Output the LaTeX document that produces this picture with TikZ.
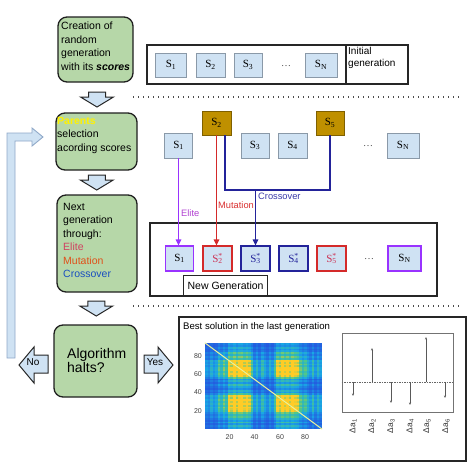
\documentclass[tikz,border=0pt]{standalone}
\usepackage{fontspec}
\setmainfont{Liberation Sans}
\newfontfamily\serif{Liberation Serif}
\usetikzlibrary{arrows.meta,calc}
\definecolor{gfill}{HTML}{B6D7A8}
\definecolor{bfill}{HTML}{CFE2F3}
\definecolor{sborder}{HTML}{8A99A8}
\definecolor{brownf}{HTML}{BF9000}
\definecolor{brownd}{HTML}{7F6000}
\definecolor{purp}{HTML}{9933FF}
\definecolor{redc}{HTML}{D42A2A}
\definecolor{navy}{HTML}{23239A}
\definecolor{elitec}{HTML}{B03FD0}
\definecolor{mutc}{HTML}{D93030}
\definecolor{xoc}{HTML}{3A3AA8}
\definecolor{starred}{HTML}{CC3355}
\definecolor{eliteb}{HTML}{D04060}
\definecolor{mutb}{HTML}{E0501A}
\definecolor{xob}{HTML}{1A4FC0}
\definecolor{fbborder}{HTML}{8FA8C8}
\definecolor{hmA}{rgb}{0.15,0.27,0.87}
\definecolor{hmB}{rgb}{0.1,0.65,0.9}
\definecolor{hmC}{rgb}{0.3,0.78,0.55}
\definecolor{hmD}{rgb}{1,0.8,0.15}
\newcommand\subS[1]{S\textsubscript{#1}}
\newcommand\starS[1]{S\rlap{\textsuperscript{*}}\textsubscript{#1}}
\tikzset{
  gbox/.style={draw=black!88, line width=1.3pt, fill=gfill, rounded corners=9pt, inner sep=0pt},
  btext/.style={inner sep=0pt, align=left, anchor=north west, font=\fontsize{10.5}{13.5}\selectfont},
  sbox/.style={draw=sborder, fill=bfill, line width=0.8pt, minimum width=29pt, minimum height=24.5pt, inner sep=0pt, font=\serif\fontsize{11}{11}\selectfont},
  brownbox/.style={sbox, fill=brownf, draw=brownd},
  dotsnode/.style={inner sep=0pt, font=\serif\fontsize{10}{10}\selectfont, text=black!70},
  blockarrow/.style={draw=black!85, fill=bfill, line width=1pt, line join=miter},
  frame/.style={draw=black!85, line width=1.2pt, inner sep=0pt},
  dotsep/.style={draw=black!70, line width=1.2pt, dash pattern=on 1.2pt off 3.8pt},
  conn/.style={line width=1.2pt, -{Triangle[length=6pt,width=5.5pt]}},
  lbl/.style={inner sep=0pt, font=\fontsize{9.3}{9.3}\selectfont},
  stem/.style={draw=black!65, line width=0.6pt, -{Stealth[length=2.5pt,width=2pt]}},
  tick/.style={inner sep=0pt, font=\fontsize{7}{7}\selectfont, text=black!75},
  dlabel/.style={inner sep=0pt, rotate=90, anchor=east, font=\fontsize{8.5}{8.5}\selectfont, text=black!80},
  downarr/.pic={\draw[blockarrow] (-8.5,-7.5) -- (8.5,-7.5) -- (8.5,-2.5) -- (16.5,-2.5) -- (0,7.5) -- (-16.5,-2.5) -- (-8.5,-2.5) -- cycle;}
}
\begin{document}
\begin{tikzpicture}[x=1pt,y=-1pt]
\useasboundingbox (0,0) rectangle (474,474);

% ---------- left column boxes ----------
\node[gbox, minimum width=75pt, minimum height=65pt] (b1) at (95.5,49.5) {};
\node[btext] (b1t) at (61,22) {Creation of\\random\\generation\\with its \textbf{\textit{scores}}};
\node[gbox, minimum width=81pt, minimum height=57pt] (b2) at (96.5,141.5) {};
\node[btext] (b2t) at (57,117) {\textcolor{yellow}{\textbf{Parents}}\\selection\\acording scores};
\node[gbox, minimum width=80pt, minimum height=97pt] (b3) at (97,243.5) {};
\node[btext] (b3t) at (63,203) {Next\\generation\\through:\\\textcolor{eliteb}{Elite}\\\textcolor{mutb}{Mutation}\\\textcolor{xob}{Crossover}};
\node[gbox, minimum width=83pt, minimum height=72pt] (b4) at (95.5,361) {};
\node[inner sep=0pt, align=left, anchor=north west, font=\fontsize{14}{14}\selectfont] (b4t) at (67,348) {Algorithm\\halts?};

% block arrows between boxes
\pic at ($(b1.south)!0.5!(b2.north)+(1,2)$) {downarr};
\pic at ($(b2.south)!0.5!(b3.north)+(0,0)$) {downarr};
\pic at ($(b3.south)!0.5!(b4.north)+(0,0)$) {downarr};

% No / Yes arrows
\draw[blockarrow] (48,355) -- (34,355) -- (34,347) -- (19,365) -- (34,383) -- (34,373) -- (48,373) -- cycle;
\node[inner sep=0pt, font=\fontsize{10}{10}\selectfont] (no) at (33,362) {No};
\draw[blockarrow] (144,355) -- (158,355) -- (158,347) -- (173,365) -- (158,383) -- (158,373) -- (144,373) -- cycle;
\node[inner sep=0pt, font=\fontsize{10}{10}\selectfont] (yes) at (155,362) {Yes};

% feedback arrow
\draw[fill=bfill, draw=fbborder, line width=0.9pt] (7,358) -- (7,133) -- (32,133) -- (32,128) -- (43,137) -- (32,146) -- (32,141) -- (15,141) -- (15,358) -- cycle;

% dotted separators
\draw[dotsep] (133,97) -- (460,97);
\draw[dotsep] (133,306) -- (460,306);

% ---------- initial generation ----------
\node[frame, minimum width=261pt, minimum height=39pt] (ig) at (277.5,64.5) {};
\node[frame, anchor=north east, minimum width=62pt, minimum height=39pt] (iglab) at (ig.north east) {};
\node[inner sep=0pt, align=left, anchor=north west, font=\fontsize{10}{12}\selectfont] (igt) at (348,47.5) {Initial\\generation};
\node[sbox, minimum width=31pt, minimum height=24pt] (i1) at (171,65) {\subS{1}};
\node[sbox, minimum height=24pt] (i2) at (210.5,65) {\subS{2}};
\node[sbox, minimum width=28pt, minimum height=24pt] (i3) at (248,65) {\subS{3}};
\node[dotsnode] (idots) at (286,66) {\ldots};
\node[sbox, minimum width=32pt, minimum height=24pt] (iN) at (321,65) {\subS{N}};

% ---------- parents row ----------
\node[sbox, minimum width=28pt, minimum height=25pt] (p1) at (178.5,145.5) {\subS{1}};
\node[brownbox, minimum height=24pt] (p2) at (216.5,123) {\subS{2}};
\node[sbox, minimum width=28pt, minimum height=25pt] (p3) at (255,145.5) {\subS{3}};
\node[sbox, minimum width=29pt, minimum height=25pt] (p4) at (292.5,145.5) {\subS{4}};
\node[brownbox, minimum width=28pt, minimum height=24pt] (p5) at (330,123) {\subS{5}};
\node[dotsnode] (pdots) at (368,146) {\ldots};
\node[sbox, minimum width=32pt, minimum height=25pt] (pN) at (403,145.5) {\subS{N}};

% ---------- new generation ----------
\node[frame, minimum width=287pt, minimum height=73pt] (ng) at (293.5,259.5) {};
\node[frame, anchor=south west, minimum width=84pt, minimum height=20pt, fill=white, font=\fontsize{10.5}{10.5}\selectfont] (nglab) at (183,296) {New Generation};
\node[sbox, draw=purp, line width=1.2pt, minimum width=28pt, minimum height=25pt] (n1) at (179.5,258.5) {\subS{1}};
\node[sbox, draw=redc, line width=1.2pt, text=starred, minimum height=25pt] (n2) at (217.5,258.5) {\starS{2}};
\node[sbox, draw=navy, line width=1.2pt, text=navy, minimum height=25pt] (n3) at (255.5,258.5) {\starS{3}};
\node[sbox, draw=navy, line width=1.2pt, text=navy, minimum height=25pt] (n4) at (293.5,258.5) {\starS{4}};
\node[sbox, draw=redc, line width=1.2pt, text=starred, minimum height=25pt] (n5) at (331.5,258.5) {\starS{5}};
\node[dotsnode] (ndots) at (369,259) {\ldots};
\node[sbox, draw=purp, line width=1.2pt, minimum width=33pt, minimum height=25pt] (nN) at (404.5,258.5) {\subS{N}};

% ---------- connectors ----------
\draw[conn, draw=purp, fill=purp] (p1.south) -- (p1.south |- n1.north);
\node[lbl, text=elitec, anchor=west] (elite) at (181,213) {Elite};
\draw[conn, draw=redc, fill=redc] (p2.south) -- (p2.south |- n2.north);
\node[lbl, text=mutc, anchor=west] (mut) at (218,205) {Mutation};
\coordinate (xs) at ([xshift=8.5pt]p2.south);
\coordinate (xj) at (p5.south |- 0,190);
\draw[draw=navy, line width=1.2pt] (xs) |- (xj) -- (p5.south);
\draw[conn, draw=navy, fill=navy] (n3.north |- xj) -- (n3.north);
\node[lbl, text=xoc, anchor=north west] (xo) at (258,193) {Crossover};

% ---------- best solution panel ----------
\node[frame, line width=1.5pt, minimum width=287pt, minimum height=144pt] (best) at (322.5,389) {};
\node[inner sep=0pt, anchor=base west, font=\fontsize{9.6}{9.6}\selectfont] (bestt) at (183,329.5) {Best solution in the last generation};

% heatmap
\def\alist{{0.3,0.25,0.4,0.28,0.35,0.6,0.45,0.65,0.5,0.95,0.82,1,0.8,0.97,1,0.85,0.96,0.83,0.6,0.3,0.45,0.28,0.5,0.35,0.25,0.42,0.3,0.55,0.92,0.8,1,0.86,0.97,0.82,1,0.9,0.84,0.62,0.48,0.58,0.42,0.3,0.5,0.28,0.45,0.33}}
\foreach \i in {0,...,45} {
  \foreach \j in {0,...,45} {
    \pgfmathsetmacro\v{\alist[\i]*\alist[\j]}
    \pgfmathtruncatemacro\seg{\v<0.3 ? 0 : (\v<0.55 ? 1 : 2)}
    \pgfmathtruncatemacro\pc{\seg==0 ? 100*\v/0.3 : (\seg==1 ? 100*(\v-0.3)/0.25 : min(100,100*(\v-0.55)/0.25))}
    \ifcase\seg \colorlet{hc}{hmB!\pc!hmA}\or \colorlet{hc}{hmC!\pc!hmB}\or \colorlet{hc}{hmD!\pc!hmC}\fi
    \fill[hc] (205+\i*2.5435,343+\j*1.8696) rectangle ++(2.6,1.95);
  }
}
\node[inner sep=0pt, minimum width=117pt, minimum height=86pt] (hm) at (263.5,386) {};
\draw[color={rgb,1:red,0.92;green,0.95;blue,0.6}, line width=1pt] (hm.north west) -- (hm.south east);
\node[tick, anchor=east] (y80) at (202,356) {80};
\node[tick, anchor=east] (y60) at (202,374) {60};
\node[tick, anchor=east] (y40) at (202,392.5) {40};
\node[tick, anchor=east] (y20) at (202,411) {20};
\node[tick, anchor=north] (x20) at (229.5,434) {20};
\node[tick, anchor=north] (x40) at (254.5,434) {40};
\node[tick, anchor=north] (x60) at (280,434) {60};
\node[tick, anchor=north] (x80) at (305,434) {80};

% stem plot
\node[draw=black!55, line width=0.8pt, inner sep=0pt, minimum width=111pt, minimum height=79pt] (sp) at (397.5,372.5) {};
\coordinate (bl) at (0,382);
\draw[draw=black!60, line width=0.7pt, dash pattern=on 1.5pt off 1pt] (sp.west |- bl) -- (sp.east |- bl);
\draw[stem] (353,382) -- (353,396);
\draw[stem] (372,382) -- (372,348);
\draw[stem] (391,382) -- (391,403);
\draw[stem] (410,382) -- (410,405);
\draw[stem] (426,382) -- (426,337);
\draw[stem] (445,382) -- (445,398);
\node[dlabel] (d1) at (353,418) {Δa\textsubscript{\,1}};
\node[dlabel] (d2) at (372,418) {Δa\textsubscript{\,2}};
\node[dlabel] (d3) at (391,418) {Δa\textsubscript{\,3}};
\node[dlabel] (d4) at (410,418) {Δa\textsubscript{\,4}};
\node[dlabel] (d5) at (427,418) {Δa\textsubscript{\,5}};
\node[dlabel] (d6) at (446,418) {Δa\textsubscript{\,6}};
\end{tikzpicture}
\end{document}
